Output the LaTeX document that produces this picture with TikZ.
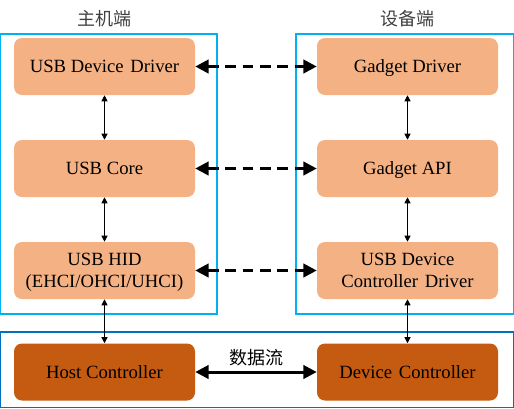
\documentclass[tikz,border=0pt]{standalone}
\usepackage{fontspec}
\setmainfont{Liberation Serif}
\newfontfamily\cjk{Noto Sans CJK SC}
\usetikzlibrary{arrows.meta}
\definecolor{lightor}{HTML}{F4B183}
\definecolor{darkor}{HTML}{C55A11}
\definecolor{framecyan}{HTML}{00B0F0}
\definecolor{frameblue}{HTML}{0070C0}
\definecolor{titlegray}{HTML}{404040}
\newcommand{\wsp}{\hspace{5pt}}
\newcommand{\mystrut}{\rule[-2.7pt]{0pt}{14.7pt}}
\begin{document}
\begin{tikzpicture}[x=0.75pt,y=-0.75pt,
  box/.style={draw=none,rounded corners=6pt,minimum width=135.75pt,minimum height=42.75pt,
    align=center,font=\fontsize{14}{16.5}\selectfont,inner sep=0pt},
  lbox/.style={box,fill=lightor},
  dbox/.style={box,fill=darkor},
  thin/.style={line width=0.75pt,{Triangle[length=4.5pt,width=4.5pt]}-{Triangle[length=4.5pt,width=4.5pt]}},
  dashlink/.style={line width=2.25pt,dash pattern=on 8pt off 5pt,{Triangle[length=10pt,width=10pt]}-{Triangle[length=10pt,width=10pt]}},
  solidlink/.style={line width=2.25pt,{Triangle[length=10pt,width=10pt]}-{Triangle[length=10pt,width=10pt]}},
  title/.style={font=\cjk\fontsize{13.5}{16}\selectfont,text=titlegray}]
\useasboundingbox (0,0) rectangle (514,408);
% frames
\draw[framecyan,line width=0.9pt] (0.6,34) rectangle (217,314);
\draw[framecyan,line width=0.9pt] (296,34) rectangle (513.4,314);
\draw[frameblue,line width=0.9pt] (0.6,332) rectangle (513.4,407.4);
% titles
\node[title] (th) at (104,19) {主机端};
\node[title] (td) at (407,19) {设备端};
% left column
\node[lbox] (udd) at (104.5,66.5) {\mystrut USB Device\wsp Driver};
\node[lbox] (uc) at (104.5,168.5) {\mystrut USB Core};
\node[lbox] (hid) at (104.5,270.5) {\mystrut USB HID\\\mystrut (EHCI/OHCI/UHCI)};
\node[dbox] (hc) at (104.5,372) {\mystrut Host Controller};
% right column
\node[lbox] (gd) at (407.5,66.5) {\mystrut Gadget Driver};
\node[lbox] (ga) at (407.5,168.5) {\mystrut Gadget API};
\node[lbox] (udc) at (407.5,270.5) {\mystrut USB Device\\\mystrut Controller\wsp Driver};
\node[dbox] (dc) at (407.5,372) {\mystrut Device\wsp Controller};
% vertical links
\draw[thin] (udd) -- (uc);
\draw[thin] (uc) -- (hid);
\draw[thin] (hid) -- (hc);
\draw[thin] (gd) -- (ga);
\draw[thin] (ga) -- (udc);
\draw[thin] (udc) -- (dc);
% horizontal links
\draw[dashlink] (udd) -- (gd);
\draw[dashlink] (uc) -- (ga);
\draw[dashlink] (hid) -- (udc);
\draw[solidlink] (hc) -- (dc);
\node[font=\cjk\fontsize{13.5}{16}\selectfont,text=black] (flow) at (256,358) {数据流};
\end{tikzpicture}
\end{document}
